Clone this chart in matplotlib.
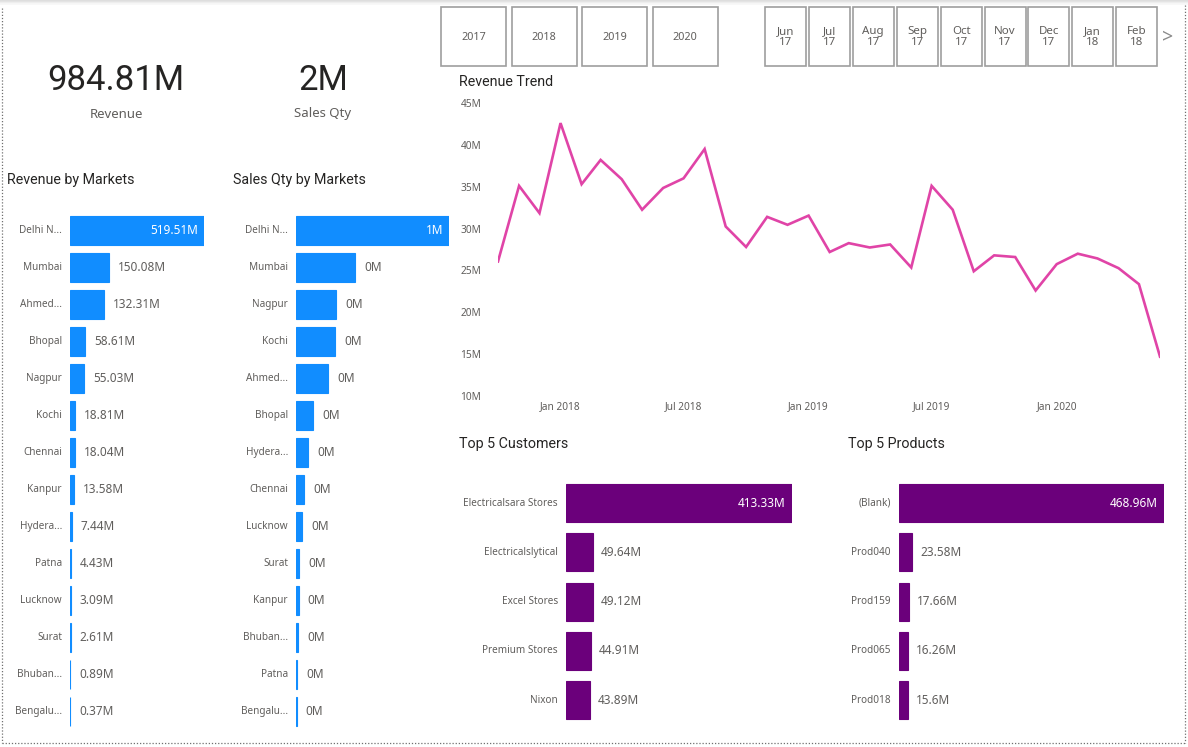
import numpy as np
import pandas as pd
import matplotlib
matplotlib.use("Agg")
import matplotlib.pyplot as plt
import matplotlib.dates as mdates
from matplotlib.patches import Rectangle

W, H = 1188, 747

# ---- data ----
markets_rev = ["Delhi N...", "Mumbai", "Ahmed...", "Bhopal", "Nagpur", "Kochi", "Chennai",
               "Kanpur", "Hydera...", "Patna", "Lucknow", "Surat", "Bhuban...", "Bengalu..."]
revenue_m = [519.51, 150.08, 132.31, 58.61, 55.03, 18.81, 18.04,
             13.58, 7.44, 4.43, 3.09, 2.61, 0.89, 0.37]

markets_qty = ["Delhi N...", "Mumbai", "Nagpur", "Kochi", "Ahmed...", "Bhopal", "Hydera...",
               "Chennai", "Lucknow", "Surat", "Kanpur", "Bhuban...", "Patna", "Bengalu..."]
qty_m = [0.81, 0.312, 0.212, 0.206, 0.169, 0.090, 0.064,
         0.042, 0.032, 0.016, 0.015, 0.013, 0.005, 0.004]

trend_months = pd.date_range("2017-10-01", "2020-06-01", freq="MS")
trend_rev_m = [26.07, 35.1, 31.85, 42.6, 35.3, 38.2, 35.9, 32.25, 34.85, 36.0, 39.5,
               30.25, 27.8, 31.4, 30.45, 31.55, 27.2, 28.26, 27.74, 28.1, 25.35,
               35.1, 32.25, 24.9, 26.8, 26.6, 22.6, 25.75, 27.0, 26.43, 25.27, 23.36, 14.7]

customers = ["Electricalsara Stores", "Electricalslytical", "Excel Stores", "Premium Stores", "Nixon"]
customer_rev_m = [413.33, 49.64, 49.12, 44.91, 43.89]

products = ["(Blank)", "Prod040", "Prod159", "Prod065", "Prod018"]
product_rev_m = [468.96, 23.58, 17.66, 16.26, 15.6]

years = ["2017", "2018", "2019", "2020"]
month_tiles = ["Jun\n17", "Jul\n17", "Aug\n17", "Sep\n17", "Oct\n17", "Nov\n17",
               "Dec\n17", "Jan\n18", "Feb\n18"]

BLUE = "#118DFF"
PURPLE = "#6B007B"
PINK = "#E044A7"
GRAY = "#605E5C"
DARK = "#252423"
TITLE_FONT = ["Roboto", "DejaVu Sans"]
LABEL_FONT = ["Noto Sans", "DejaVu Sans"]

fig = plt.figure(figsize=(W / 100, H / 100), dpi=100)
fig.patch.set_facecolor("white")


def px_axes(left, top, width, height):
    return fig.add_axes([left / W, 1 - (top + height) / H, width / W, height / H])


def fmt_short(v):
    return f"{v:.2f}".rstrip("0").rstrip(".") + "M"


# background overlay in pixel coordinates
bg = px_axes(0, 0, W, H)
bg.set_xlim(0, W)
bg.set_ylim(H, 0)
bg.axis("off")

# top shadow
for i, c in enumerate(["#D8D8D8", "#E6E6E6", "#F0F0F0", "#F7F7F7"]):
    bg.plot([0, W], [i + 0.5, i + 0.5], color=c, lw=1.2)
# dotted canvas border
bg.plot([2, 2], [8, 743], color="#707070", lw=0.9, ls=(0, (1, 1.5)))
bg.plot([2, 1185], [743, 743], color="#707070", lw=0.9, ls=(0, (1, 1.5)))
bg.plot([1185, 1185], [5, 743], color="#707070", lw=0.9, ls=(0, (1, 1.5)))

# year slicer
for i, y in enumerate(years):
    x0 = 441 + i * 70.5
    bg.add_patch(Rectangle((x0, 7), 65, 59, fill=False, ec="#9E9E9E", lw=1.2))
    bg.text(x0 + 32.5, 37, y, ha="center", va="center", fontsize=7.8,
            color=GRAY, family=LABEL_FONT)
# month slicer
for i, m in enumerate(month_tiles):
    x0 = 765 + i * 43.9
    bg.add_patch(Rectangle((x0, 7), 41, 59, fill=False, ec="#9E9E9E", lw=1.2))
    bg.text(x0 + 20.5, 37, m, ha="center", va="center", fontsize=8.3,
            color=GRAY, family=LABEL_FONT, linespacing=1.05)
bg.text(1168, 37, ">", ha="center", va="center", fontsize=14, color="#8A8A8A",
        family=LABEL_FONT, fontweight="light")

# KPI cards
bg.text(116, 81, "984.81M", ha="center", va="center", fontsize=25, color=DARK,
        family=TITLE_FONT)
bg.text(116, 114, "Revenue", ha="center", va="center", fontsize=9.5, color=GRAY,
        family=LABEL_FONT)
bg.text(323, 81, "2M", ha="center", va="center", fontsize=25, color=DARK,
        family=TITLE_FONT)
bg.text(323, 114, "Sales Qty", ha="center", va="center", fontsize=9.5, color=GRAY,
        family=LABEL_FONT)

# titles
for x, y, t in [(7, 180, "Revenue by Markets"), (233, 180, "Sales Qty by Markets"),
                (459, 82, "Revenue Trend"), (459, 444, "Top 5 Customers"),
                (848, 444, "Top 5 Products")]:
    bg.text(x, y, t, ha="left", va="center", fontsize=10.3, color=DARK,
            family=TITLE_FONT)


def hbar(ax, cats, vals, color, fmt, label_pad, cat_gap, height=0.78):
    n = len(cats)
    pos = np.arange(n)
    ax.barh(pos, vals, height=height, color=color, edgecolor=color, linewidth=0.8)
    ax.set_ylim(n - 0.5, -0.5)
    ax.set_xlim(0, max(vals))
    ax.axis("off")
    for i, (c, v) in enumerate(zip(cats, vals)):
        ax.annotate(c, (0, i), xytext=(-cat_gap, 0), textcoords="offset pixels",
                    ha="right", va="center", fontsize=7.2, color=GRAY, family=LABEL_FONT)
        if i == 0:
            ax.annotate(fmt(v), (v, i), xytext=(-6, 0), textcoords="offset pixels",
                        ha="right", va="center", fontsize=8.5, color="white",
                        family=LABEL_FONT)
        else:
            ax.annotate(fmt(v), (v, i), xytext=(label_pad, 0), textcoords="offset pixels",
                        ha="left", va="center", fontsize=8.5, color=GRAY,
                        family=LABEL_FONT, annotation_clip=False)


ax1 = px_axes(70, 212, 134, 518)
hbar(ax1, markets_rev, revenue_m, BLUE, lambda v: f"{v:.2f}M", 9, 8)

ax2 = px_axes(296, 212, 153, 518)
hbar(ax2, markets_qty, qty_m, BLUE, lambda v: f"{v:.0f}M", 9, 8)

ax4 = px_axes(566, 478.4, 226, 246.3)
hbar(ax4, customers, customer_rev_m, PURPLE, fmt_short, 8, 8, height=0.77)

ax5 = px_axes(899, 478.4, 265, 246.3)
hbar(ax5, products, product_rev_m, PURPLE, fmt_short, 8, 8, height=0.77)

# revenue trend
ax3 = px_axes(498, 103, 662, 293)
ax3.plot(trend_months, trend_rev_m, color=PINK, lw=1.9, solid_joinstyle="miter")
ax3.set_xlim(trend_months[0], trend_months[-1])
ax3.set_ylim(10, 45)
ax3.set_yticks(range(10, 50, 5))
ax3.set_yticklabels([f"{v}M" for v in range(10, 50, 5)])
ax3.xaxis.set_major_locator(mdates.MonthLocator(bymonth=[1, 7]))
ax3.xaxis.set_major_formatter(mdates.DateFormatter("%b %Y"))
for s in ax3.spines.values():
    s.set_visible(False)
ax3.tick_params(axis="y", length=0, pad=12, labelsize=7.3, labelcolor=GRAY)
ax3.tick_params(axis="x", length=0, pad=4, labelsize=7.3, labelcolor=GRAY)
for lab in ax3.get_xticklabels() + ax3.get_yticklabels():
    lab.set_family(LABEL_FONT)
ax3.patch.set_alpha(0)

fig.savefig("out.png", dpi=100)
